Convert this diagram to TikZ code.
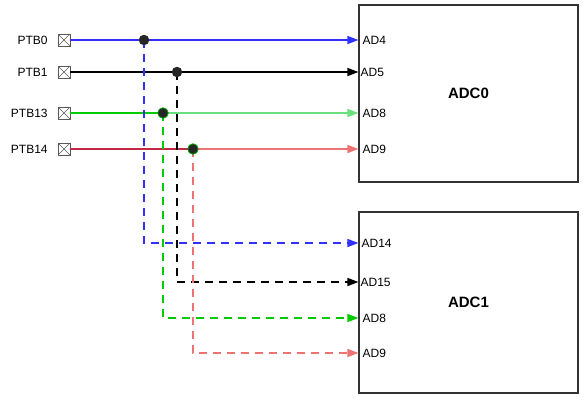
\documentclass[tikz,border=0pt]{standalone}
\usepackage{fontspec}
\setmainfont{Liberation Sans}
\usetikzlibrary{arrows.meta,positioning}
\definecolor{sigblue}{HTML}{3030FF}
\definecolor{siggreen}{HTML}{00CC00}
\definecolor{siglgreen}{HTML}{6ADF7E}
\definecolor{sigred}{HTML}{C42848}
\definecolor{siglred}{HTML}{EE7272}
\definecolor{boxgray}{HTML}{333333}
\tikzset{
  pinbox/.style={draw=gray!70!black, minimum size=12bp, inner sep=0pt,
    path picture={\draw[gray!70!black] (path picture bounding box.south west) -- (path picture bounding box.north east)
      (path picture bounding box.north west) -- (path picture bounding box.south east);}},
  pinlabel/.style={inner sep=0pt, font=\fontsize{12bp}{14bp}\selectfont},
  portlabel/.style={anchor=west, inner sep=0pt, xshift=4bp, font=\fontsize{12bp}{14bp}\selectfont},
  adcbox/.style={draw=boxgray, line width=1.1bp, minimum width=219bp, inner sep=0pt, font=\bfseries\fontsize{15bp}{18bp}\selectfont},
  tap/.style={circle, fill=black!85, inner sep=0pt, minimum size=10.5bp},
  wire/.style={line width=1.3bp},
  arrowwire/.style={wire, -{Triangle[length=11bp,width=8bp]}},
  tapwire/.style={arrowwire, dash pattern=on 8bp off 6bp}
}
\begin{document}
\begin{tikzpicture}[x=1bp, y=-1bp]
  \useasboundingbox (0,0) rectangle (585,407);
  % converters
  \node[adcbox, minimum height=177bp] (adc0) at (468.5,93.5) {ADC0};
  \node[adcbox, minimum height=181bp] (adc1) at (468.5,302.5) {ADC1};

  % ports
  \coordinate (a0p4) at (adc0.west |- 0,40);
  \coordinate (a0p5) at (adc0.west |- 0,72);
  \coordinate (a0p8) at (adc0.west |- 0,113);
  \coordinate (a0p9) at (adc0.west |- 0,149);
  \coordinate (a1p14) at (adc1.west |- 0,243);
  \coordinate (a1p15) at (adc1.west |- 0,282);
  \coordinate (a1p8) at (adc1.west |- 0,318);
  \coordinate (a1p9) at (adc1.west |- 0,353);
  \node[portlabel] (l0p4) at (a0p4) {AD4};
  \node[portlabel, xshift=-2bp] (l0p5) at (a0p5) {AD5};
  \node[portlabel] (l0p8) at (a0p8) {AD8};
  \node[portlabel] (l0p9) at (a0p9) {AD9};
  \node[portlabel, xshift=-1bp] (l1p14) at (a1p14) {AD14};
  \node[portlabel, xshift=-2bp] (l1p15) at (a1p15) {AD15};
  \node[portlabel] (l1p8) at (a1p8) {AD8};
  \node[portlabel] (l1p9) at (a1p9) {AD9};

  % pins
  \node[pinbox] (ptb0) at (64,40) {};
  \node[pinbox] (ptb1) at (64,72) {};
  \node[pinbox] (ptb13) at (64,113) {};
  \node[pinbox] (ptb14) at (64,149) {};
  \node[pinlabel, left=10bp of ptb0] (n0) {PTB0};
  \node[pinlabel, left=10bp of ptb1] (n1) {PTB1};
  \node[pinlabel, left=10bp of ptb13] (n13) {PTB13};
  \node[pinlabel, left=10bp of ptb14] (n14) {PTB14};

  % taps
  \coordinate (t0) at (144,40);
  \coordinate (t1) at (177,72);
  \coordinate (t13) at (163,113);
  \coordinate (t14) at (193,149);

  % to ADC0
  \draw[wire, sigblue] (ptb0) -- (t0);
  \draw[arrowwire, sigblue] (t0) -- (a0p4);
  \draw[wire] (ptb1) -- (t1);
  \draw[arrowwire] (t1) -- (a0p5);
  \draw[wire, siggreen] (ptb13) -- (t13);
  \draw[arrowwire, siglgreen] (t13) -- (a0p8);
  \draw[wire, sigred] (ptb14) -- (t14);
  \draw[arrowwire, siglred] (t14) -- (a0p9);

  % to ADC1
  \draw[tapwire, sigblue] (t0) |- (a1p14);
  \draw[tapwire] (t1) |- (a1p15);
  \draw[tapwire, siggreen] (t13) |- (a1p8);
  \draw[tapwire, siglred] (t14) |- (a1p9);

  \node[tap] (d0) at (t0) {};
  \node[tap] (d1) at (t1) {};
  \node[tap, draw=siggreen!80!black, line width=0.8bp] (d13) at (t13) {};
  \node[tap, draw=siggreen!80!black, line width=0.8bp] (d14) at (t14) {};
\end{tikzpicture}
\end{document}
